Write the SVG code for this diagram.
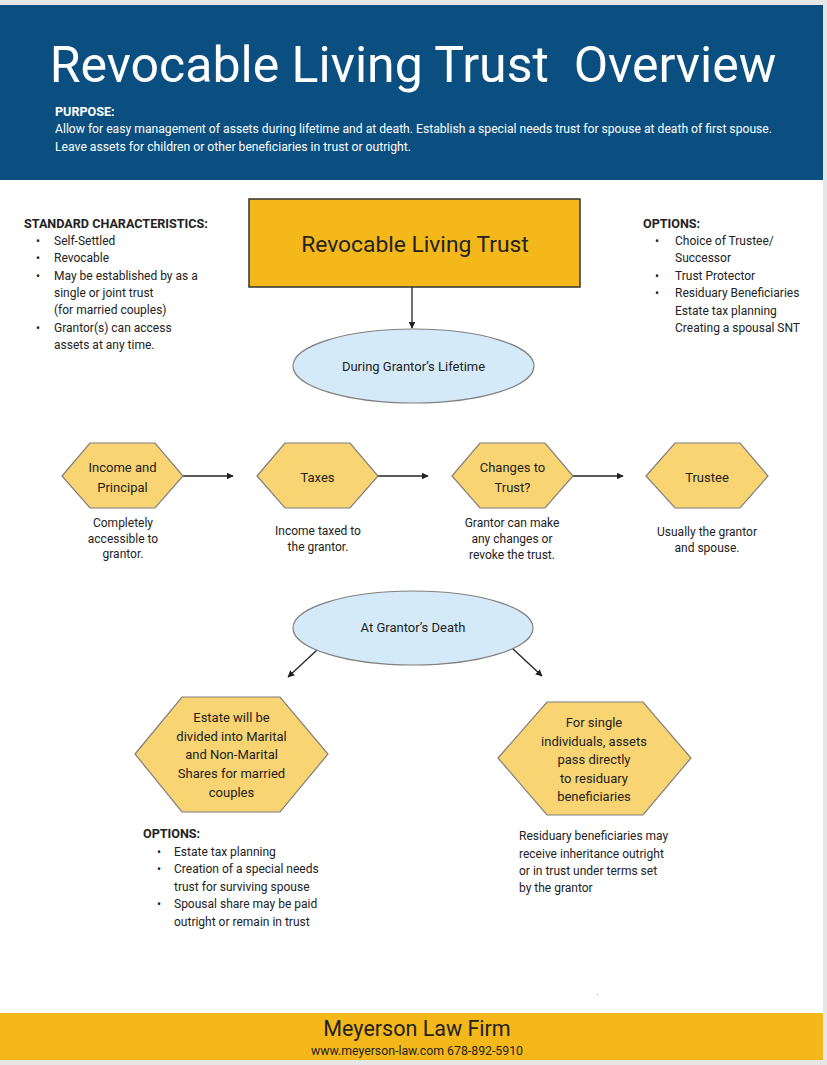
<svg xmlns="http://www.w3.org/2000/svg" width="827" height="1065" viewBox="0 0 827 1065">
<style>
text{font-family:Roboto,"Liberation Sans",sans-serif;fill:#222}
.w{fill:#fff}
.b{font-weight:bold;font-size:12.6px}
.s12{font-size:12px}
.s13{font-size:13px}
.c{text-anchor:middle}
.hex{fill:#f9d473;stroke:#7f7f7f;stroke-width:1.2}
.ell{fill:#d5eaf8;stroke:#808080;stroke-width:1.2}
.con{stroke:#222;stroke-width:1.3;fill:none;marker-end:url(#ah)}
</style>
<defs>
<marker id="ah" viewBox="0 0 10 10" refX="9" refY="5" markerWidth="7" markerHeight="7" markerUnits="userSpaceOnUse" orient="auto">
<path d="M0,0 L10,5 L0,10 z" fill="#222"/>
</marker>
</defs>
<rect x="0" y="0" width="827" height="1065" fill="#e6e6e6"/>
<rect x="0" y="5" width="823" height="1055" fill="#fff"/>

<g id="header">
<rect x="0" y="5" width="823" height="175" fill="#0b4f80"/>
<text class="w c" x="413" y="82" font-size="50" xml:space="preserve">Revocable Living Trust  Overview</text>
<text class="w b" x="55" y="116">PURPOSE:</text>
<text class="w s12" x="55" y="133" textLength="717" lengthAdjust="spacingAndGlyphs">Allow for easy management of assets during lifetime and at death. Establish a special needs trust for spouse at death of first spouse.</text>
<text class="w s12" x="55" y="151" textLength="356" lengthAdjust="spacingAndGlyphs">Leave assets for children or other beneficiaries in trust or outright.</text>
</g>

<g id="standard-characteristics">
<text class="b" x="24" y="228">STANDARD CHARACTERISTICS:</text>
<text class="s12" x="36" y="245">•</text><text class="s12" x="54" y="245">Self-Settled</text>
<text class="s12" x="36" y="262">•</text><text class="s12" x="54" y="262">Revocable</text>
<text class="s12" x="36" y="280">•</text><text class="s12" x="54" y="280">May be established by as a</text>
<text class="s12" x="54" y="297">single or joint trust</text>
<text class="s12" x="54" y="314">(for married couples)</text>
<text class="s12" x="36" y="332">•</text><text class="s12" x="54" y="332">Grantor(s) can access</text>
<text class="s12" x="54" y="349">assets at any time.</text>
</g>

<g id="options-top">
<text class="b" x="643" y="228">OPTIONS:</text>
<text class="s12" x="655" y="245">•</text><text class="s12" x="675" y="245">Choice of Trustee/</text>
<text class="s12" x="675" y="262">Successor</text>
<text class="s12" x="655" y="280">•</text><text class="s12" x="675" y="280">Trust Protector</text>
<text class="s12" x="655" y="297">•</text><text class="s12" x="675" y="297">Residuary Beneficiaries</text>
<text class="s12" x="675" y="315">Estate tax planning</text>
<text class="s12" x="675" y="332">Creating a spousal SNT</text>
</g>

<g id="connectors">
<line class="con" x1="412" y1="287" x2="412" y2="328"/>
<line class="con" x1="183" y1="476" x2="233" y2="476"/>
<line class="con" x1="378" y1="476" x2="428" y2="476"/>
<line class="con" x1="573" y1="476" x2="623" y2="476"/>
<line class="con" x1="317" y1="650" x2="288" y2="677"/>
<line class="con" x1="512" y1="648" x2="542" y2="676"/>
</g>

<g id="trust">
<rect x="249" y="199" width="331" height="88" fill="#f5b81b" stroke="#333" stroke-width="1.5"/>
<text class="c" x="415" y="252" font-size="22.8">Revocable Living Trust</text>
</g>

<g id="lifetime">
<ellipse class="ell" cx="413.5" cy="366" rx="120.5" ry="37"/>
<text class="c s13" x="413.5" y="371">During Grantor’s Lifetime</text>
</g>

<g id="income">
<polygon class="hex" points="62,476 90,443 155,443 183,476 155,508 90,508"/>
<text class="c s13" x="122.5" y="472">Income and</text>
<text class="c s13" x="122.5" y="492">Principal</text>
<text class="c s12" x="123" y="527">Completely</text>
<text class="c s12" x="123" y="543">accessible to</text>
<text class="c s12" x="123" y="558">grantor.</text>
</g>

<g id="taxes">
<polygon class="hex" points="257,476 285,443 350,443 378,476 350,508 285,508"/>
<text class="c s13" x="317.5" y="482">Taxes</text>
<text class="c s12" x="318" y="535">Income taxed to</text>
<text class="c s12" x="318" y="551">the grantor.</text>
</g>

<g id="changes">
<polygon class="hex" points="452,476 480,443 545,443 573,476 545,508 480,508"/>
<text class="c s13" x="512.5" y="472">Changes to</text>
<text class="c s13" x="512.5" y="492">Trust?</text>
<text class="c s12" x="512" y="527">Grantor can make</text>
<text class="c s12" x="512" y="543">any changes or</text>
<text class="c s12" x="512" y="559">revoke the trust.</text>
</g>

<g id="trustee">
<polygon class="hex" points="646,476 675,443 740,443 768,476 740,508 675,508"/>
<text class="c s13" x="707" y="482">Trustee</text>
<text class="c s12" x="707" y="536">Usually the grantor</text>
<text class="c s12" x="707" y="552">and spouse.</text>
</g>

<g id="death">
<ellipse class="ell" cx="413" cy="628" rx="120" ry="37"/>
<text class="c s13" x="413" y="632">At Grantor’s Death</text>
</g>

<g id="marital">
<polygon class="hex" points="135,754 182,697 280,697 328,754 280,812 182,812"/>
<text class="c s13" x="231.5" y="722">Estate will be</text>
<text class="c s13" x="231.5" y="741">divided into Marital</text>
<text class="c s13" x="231.5" y="759">and Non-Marital</text>
<text class="c s13" x="231.5" y="778">Shares for married</text>
<text class="c s13" x="231.5" y="797">couples</text>
</g>

<g id="single">
<polygon class="hex" points="498,758 547,702 643,702 691,758 643,815 547,815"/>
<text class="c s13" x="594" y="727">For single</text>
<text class="c s13" x="594" y="746">individuals, assets</text>
<text class="c s13" x="594" y="764">pass directly</text>
<text class="c s13" x="594" y="783">to residuary</text>
<text class="c s13" x="594" y="801">beneficiaries</text>
</g>

<g id="options-bottom">
<text class="b" x="143" y="838">OPTIONS:</text>
<text class="s12" x="157" y="856">•</text><text class="s12" x="174" y="856">Estate tax planning</text>
<text class="s12" x="157" y="873">•</text><text class="s12" x="174" y="873">Creation of a special needs</text>
<text class="s12" x="174" y="891">trust for surviving spouse</text>
<text class="s12" x="157" y="908">•</text><text class="s12" x="174" y="908">Spousal share may be paid</text>
<text class="s12" x="174" y="926">outright or remain in trust</text>
</g>

<g id="residuary-note">
<text class="s12" x="519" y="840">Residuary beneficiaries may</text>
<text class="s12" x="519" y="858">receive inheritance outright</text>
<text class="s12" x="519" y="875">or in trust under terms set</text>
<text class="s12" x="519" y="892">by the grantor</text>
</g>

<text x="597" y="998" font-size="5" fill="#888">'</text>

<g id="footer">
<rect x="0" y="1013" width="823" height="47" fill="#f5b81b"/>
<text class="c" x="417" y="1036" font-size="21.5">Meyerson Law Firm</text>
<text class="c" x="417" y="1055" font-size="12.3">www.meyerson-law.com 678-892-5910</text>
</g>
</svg>
